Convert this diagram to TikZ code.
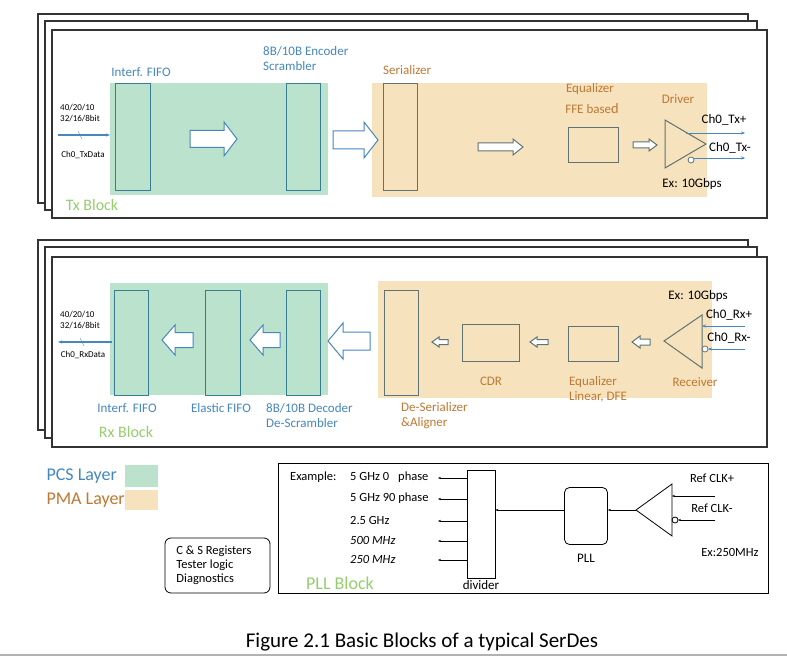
\documentclass[tikz,border=0pt]{standalone}
\usepackage{fontspec}
\setmainfont{Carlito}
\usetikzlibrary{arrows.meta,positioning}
\definecolor{pcsfill}{RGB}{186,226,204}
\definecolor{pmafill}{RGB}{246,227,190}
\definecolor{pcstext}{RGB}{70,135,190}
\definecolor{pmatext}{RGB}{190,120,50}
\definecolor{blkgreen}{RGB}{150,205,110}
\definecolor{tealbox}{RGB}{55,125,145}
\definecolor{grayline}{RGB}{95,115,115}
\tikzset{
  frame/.style={draw=black!80,line width=1.2pt,fill=white},
  pcsbox/.style={draw=tealbox,line width=1pt},
  pmabox/.style={draw=grayline,line width=1pt},
  harrow/.style={draw=#1,line width=1pt,fill=white},
  harrow/.default=pcstext,
  lbl/.style={font=\fontsize{13}{15}\selectfont,inner sep=1pt},
  tiny/.style={font=\fontsize{9}{10.5}\selectfont,inner sep=1pt,align=left},
  pllt/.style={font=\fontsize{12.5}{14}\selectfont,inner sep=1pt,align=left},
  sig/.style={draw=pcstext,-{Stealth[length=4pt]}},
}
% hollow block arrow: tail x, tip x, y, half height, signed head length
\newcommand\blockarrow[6][pcstext]{%
  \draw[harrow=#1] (#2,#4-#5/2)--(#3-#6,#4-#5/2)--(#3-#6,#4-#5)--(#3,#4)
    --(#3-#6,#4+#5)--(#3-#6,#4+#5/2)--(#2,#4+#5/2)--cycle;}
\begin{document}
\begin{tikzpicture}[x=1pt,y=-1pt,>=Stealth]
  \useasboundingbox (0,0) rectangle (787,658);
  % Tx stack
  \draw[frame] (38,14) rectangle (748,203);
  \draw[frame] (45,21) rectangle (757,210);
  \draw[frame] (52,30) rectangle (767,218);
  \fill[pcsfill] (110,83) rectangle (328,195);
  \fill[pmafill] (372,83) rectangle (707,197);
  \draw[pcsbox] (115,84) rectangle (150,190);
  \draw[pcsbox] (286,84) rectangle (320,190);
  \draw[pmabox] (383,84) rectangle (417,190);
  \node[pmabox,minimum width=50pt,minimum height=35pt] (txeq) at (593,145) {};
  \blockarrow{190}{237}{139}{17}{13}
  \blockarrow{333}{378}{140}{18}{14}
  \blockarrow[grayline]{478}{523}{147}{8}{10}
  \blockarrow[grayline]{633}{657}{145}{6}{8}
  % driver
  \coordinate (drvA) at (665,120);
  \coordinate (drvB) at (665,168);
  \coordinate (drvT) at (706,144);
  \draw[grayline,line width=1pt] (drvA)--(drvT)--(drvB)--cycle;
  \draw[grayline,line width=0.8pt,fill=white] (691,160) circle (3);
  \coordinate (txp) at (745,133);
  \coordinate (txn) at (745,158);
  \draw[sig] (686,133) -- (txp);
  \draw[sig] (694,158) -- (txn);
  \node[lbl,text=pcstext] (lfifo) at (141,72) {Interf. FIFO};
  \node[lbl,text=pcstext,align=left,anchor=west] (lenc) at (262,59) {8B/10B Encoder\\Scrambler};
  \node[lbl,text=pmatext,anchor=west] (lser) at (382,70) {Serializer};
  \node[lbl,text=pmatext] (leq) at (590,89) {Equalizer};
  \node[lbl,text=pmatext] (lffe) at (592,109) {FFE base{\Large d}};
  \node[lbl,text=pmatext] (ldrv) at (678,99) {Driver};
  \node[lbl] (ltxp) at (724,120) {Ch0\_Tx+};
  \node[lbl] (ltxn) at (730,148) {Ch0\_Tx-};
  \node[lbl] (lex) at (692,184) {Ex: 10Gbps};
  \node[font=\fontsize{16}{17}\selectfont,text=blkgreen] (txblk) at (92,205) {Tx Block};
  \coordinate (txin) at (58,135);
  \coordinate (txend) at (110,135);
  \draw[sig,line width=1.2pt] (txin) -- (txend);
  \draw[pcstext,thin] (78,131) -- (82,139);
  \node[tiny] (txw) at (80,113) {40/20/10\\32/16/8bit};
  \node[tiny] (txd) at (83,155) {Ch0\_TxData};
  % Rx stack
  \draw[frame] (38,240) rectangle (748,430);
  \draw[frame] (45,247) rectangle (757,438);
  \draw[frame] (52,257) rectangle (767,447);
  \fill[pcsfill] (110,283) rectangle (328,395);
  \fill[pmafill] (378,281) rectangle (712,398);
  \draw[pcsbox] (114,290) rectangle (148,395);
  \draw[pcsbox] (205,290) rectangle (240,395);
  \draw[pcsbox] (286,290) rectangle (320,395);
  \draw[pmabox] (384,290) rectangle (418,395);
  \node[pmabox,minimum width=57pt,minimum height=37pt] (cdr) at (491,343) {};
  \node[pmabox,minimum width=50pt,minimum height=35pt] (rxeq) at (593,344) {};
  \blockarrow{193}{162}{340}{15}{-13}
  \blockarrow{280}{250}{340}{15}{-13}
  \blockarrow{370}{328}{341}{18}{-15}
  \blockarrow[grayline]{448}{432}{342}{5}{-7}
  \blockarrow[grayline]{548}{530}{342}{5}{-7}
  \blockarrow[grayline]{650}{632}{342}{6}{-8}
  % receiver
  \coordinate (rcvA) at (702,315);
  \coordinate (rcvB) at (702,368);
  \coordinate (rcvT) at (664,341);
  \draw[grayline,line width=1pt] (rcvA)--(rcvT)--(rcvB)--cycle;
  \draw[grayline,line width=0.8pt,fill=white] (705,349) circle (3);
  \coordinate (rxp) at (745,326);
  \coordinate (rxn) at (745,349);
  \draw[sig] (rxp) -- (702,326);
  \draw[sig] (rxn) -- (708,349);
  \node[lbl] (lrxex) at (698,296) {Ex: 10Gbps};
  \node[lbl] (lrxp) at (729,315) {Ch0\_Rx+};
  \node[lbl] (lrxn) at (729,338) {Ch0\_Rx-};
  \node[lbl,text=pmatext] (lrcv) at (695,382) {Receiver};
  \node[lbl,text=pmatext,align=left] (lrxeq) at (598,389) {Equalizer\\Linear, DFE};
  \node[lbl,text=pmatext] (lcdr) at (491,381) {CDR};
  \node[lbl,text=pmatext,align=left,anchor=west] (ldes) at (400,416) {De-Serializer\\\&Aligner};
  \node[lbl,text=pcstext,align=left,anchor=west] (ldec) at (265,416) {8B/10B Decoder\\De-Scrambler};
  \node[lbl,text=pcstext] (lela) at (221,408) {Elastic FIFO};
  \node[lbl,text=pcstext] (lrxfifo) at (127,408) {Interf. FIFO};
  \node[font=\fontsize{16}{17}\selectfont,text=blkgreen] (rxblk) at (126,432) {Rx Block};
  \coordinate (rxout) at (58,342);
  \coordinate (rxbeg) at (112,342);
  \draw[sig,line width=1.2pt] (rxbeg) -- (rxout);
  \draw[pcstext,thin] (80,338) -- (84,346);
  \node[tiny] (rxw) at (80,320) {40/20/10\\32/16/8bit};
  \node[tiny] (rxd) at (83,355) {Ch0\_RxData};
  % legend
  \node[font=\fontsize{18}{19}\selectfont,text=pcstext,anchor=west] (pcs) at (43,476) {PCS Layer};
  \node[font=\fontsize{18}{19}\selectfont,text=pmatext,anchor=west] (pma) at (43,500) {PMA Layer};
  \fill[pcsfill] (125,465) rectangle (158,487);
  \fill[pmafill] (125,490) rectangle (158,510);
  \draw[thick,rounded corners=6pt] (165,538) rectangle (270,593);
  \node[pllt] (cs) at (214,565) {C \& S Registers\\Tester logic\\Diagnostics};
  % PLL block
  \draw[thick] (278,463) rectangle (768,593);
  \node[draw,thick,minimum width=28pt,minimum height=108pt] (div) at (481,524) {};
  \node[lbl,below=1pt of div] (ldiv) {divider};
  \node[draw,thick,rounded corners=5pt,minimum width=43pt,minimum height=57pt] (pll) at (586,516) {};
  \node[lbl,below=8pt of pll] (lpll) {PLL};
  \coordinate (refA) at (672,484);
  \coordinate (refB) at (672,536);
  \coordinate (refT) at (636,510);
  \draw[thick] (refA)--(refT)--(refB)--cycle;
  \draw[thick,fill=white] (675,520) circle (3);
  \coordinate (refp) at (715,496);
  \coordinate (refn) at (715,520);
  \draw[-{Stealth[length=3pt]}] (refp) -- (672,496);
  \draw[-{Stealth[length=3pt]}] (refn) -- (678,520);
  \draw[-{Stealth[length=3pt]}] (refT) -- (pll.east |- refT);
  \draw[-{Stealth[length=3pt]}] (pll.west |- 0,510) -- (div.east |- 0,510);
  \foreach \yy/\txt in {478/{5 GHz 0\enspace\ phase},499/{5 GHz 90 phase},521/{2.5 GHz},541/{\itshape 500 MHz},560/{\itshape 250 MHz}}{
    \coordinate (o\yy) at (438,\yy);
    \draw[-{Stealth[length=3pt]}] (div.west |- o\yy) -- (o\yy);
    \node[pllt,anchor=west] at (349,\yy-1) {\txt};
  }
  \node[pllt,anchor=west] (ex) at (289,477) {Example:};
  \node[pllt] (lrefp) at (712,478) {Ref CLK+};
  \node[pllt] (lrefn) at (712,508) {Ref CLK-};
  \node[pllt] (l250) at (730,552) {Ex:250MHz};
  \node[font=\fontsize{18}{19}\selectfont,text=blkgreen] (pllblk) at (340,583) {PLL Block};
  % caption
  \node[font=\fontsize{21}{23}\selectfont] (cap) at (422,642) {Figure 2.1 Basic Blocks of a typical SerDes};
  \draw[gray!60,line width=1.5pt] (0,655) -- (787,655);
\end{tikzpicture}
\end{document}
